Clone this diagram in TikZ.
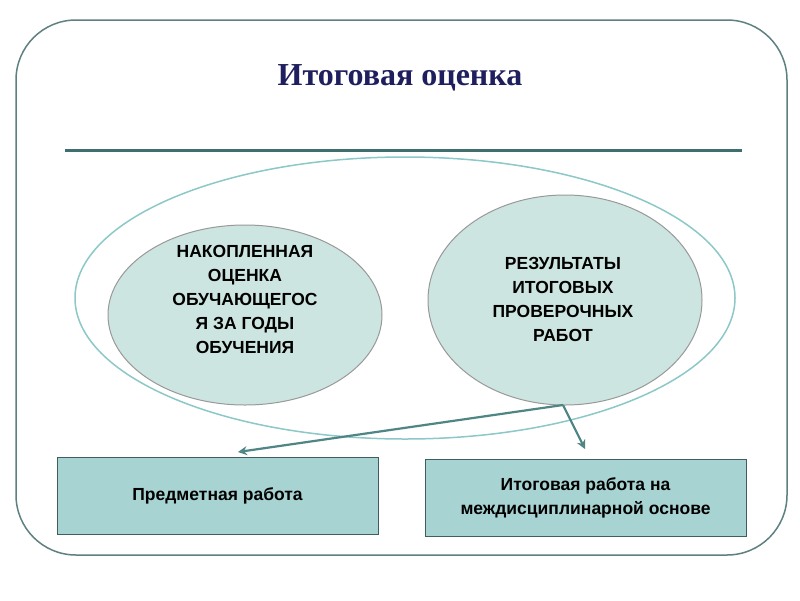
\documentclass[tikz,border=0pt]{standalone}
\usepackage{fontspec}
\setmainfont{Liberation Sans}
\newfontfamily\titlefont{Liberation Serif}
\usetikzlibrary{arrows.meta,shapes.geometric}
\definecolor{circfill}{HTML}{CCE5E0}
\definecolor{boxfill}{HTML}{A8D3D3}
\definecolor{boxline}{HTML}{3F5F5F}
\definecolor{arrcol}{HTML}{4F8585}
\definecolor{navy}{HTML}{1F1F5F}
\definecolor{frame}{HTML}{5E8080}
\definecolor{rule}{HTML}{3E6E6E}
\definecolor{ell}{HTML}{8CC8C8}
\begin{document}
\begin{tikzpicture}[x=1pt,y=-1pt,
  circ/.style={draw=gray!80,line width=1pt,fill=circfill},
  lbl/.style={font=\bfseries\fontsize{17.5}{24}\selectfont,align=center,text=black},
  boxstyle/.style={draw=boxline,line width=1pt,fill=boxfill},
  arr/.style={draw=arrcol,line width=2.2pt,-{Stealth[open,length=9pt,width=9pt]}}]
\useasboundingbox (0,0) rectangle (800,600);
\fill[white] (0,0) rectangle (800,600);
\draw[frame,line width=1.5pt,rounded corners=60pt] (16,20) rectangle (787,555);
\node[font=\titlefont\bfseries\fontsize{32}{36}\selectfont,text=navy] (title) at (400,78) {Итоговая оценка};
\draw[rule,line width=3pt] (65,150) -- (742,150);
\draw[ell,line width=1.5pt] (405,298) ellipse (330 and 141);
\node[circ,ellipse,minimum width=274pt,minimum height=180pt] (lc) at (245,315) {};
\node[circ,ellipse,minimum width=274pt,minimum height=210pt] (rc) at (565,300) {};
\node[lbl] at (245,299) {НАКОПЛЕННАЯ\\ОЦЕНКА\\ОБУЧАЮЩЕГОС\\Я ЗА ГОДЫ\\ОБУЧЕНИЯ};
\node[lbl] at (563,299) {РЕЗУЛЬТАТЫ\\ИТОГОВЫХ\\ПРОВЕРОЧНЫХ\\РАБОТ};
\node[boxstyle,minimum width=321pt,minimum height=77pt,lbl] (lb) at (217.5,495.5) {Предметная работа};
\node[boxstyle,minimum width=321pt,minimum height=77pt,lbl,font=\bfseries\fontsize{17.5}{24}\selectfont] (rb) at (585.5,497.5) {Итоговая работа на\\междисциплинарной основе};
\coordinate (s) at (563,405);
\draw[arr] (s) -- (238,452);
\draw[arr] (s) -- (585,449);
\end{tikzpicture}
\end{document}
